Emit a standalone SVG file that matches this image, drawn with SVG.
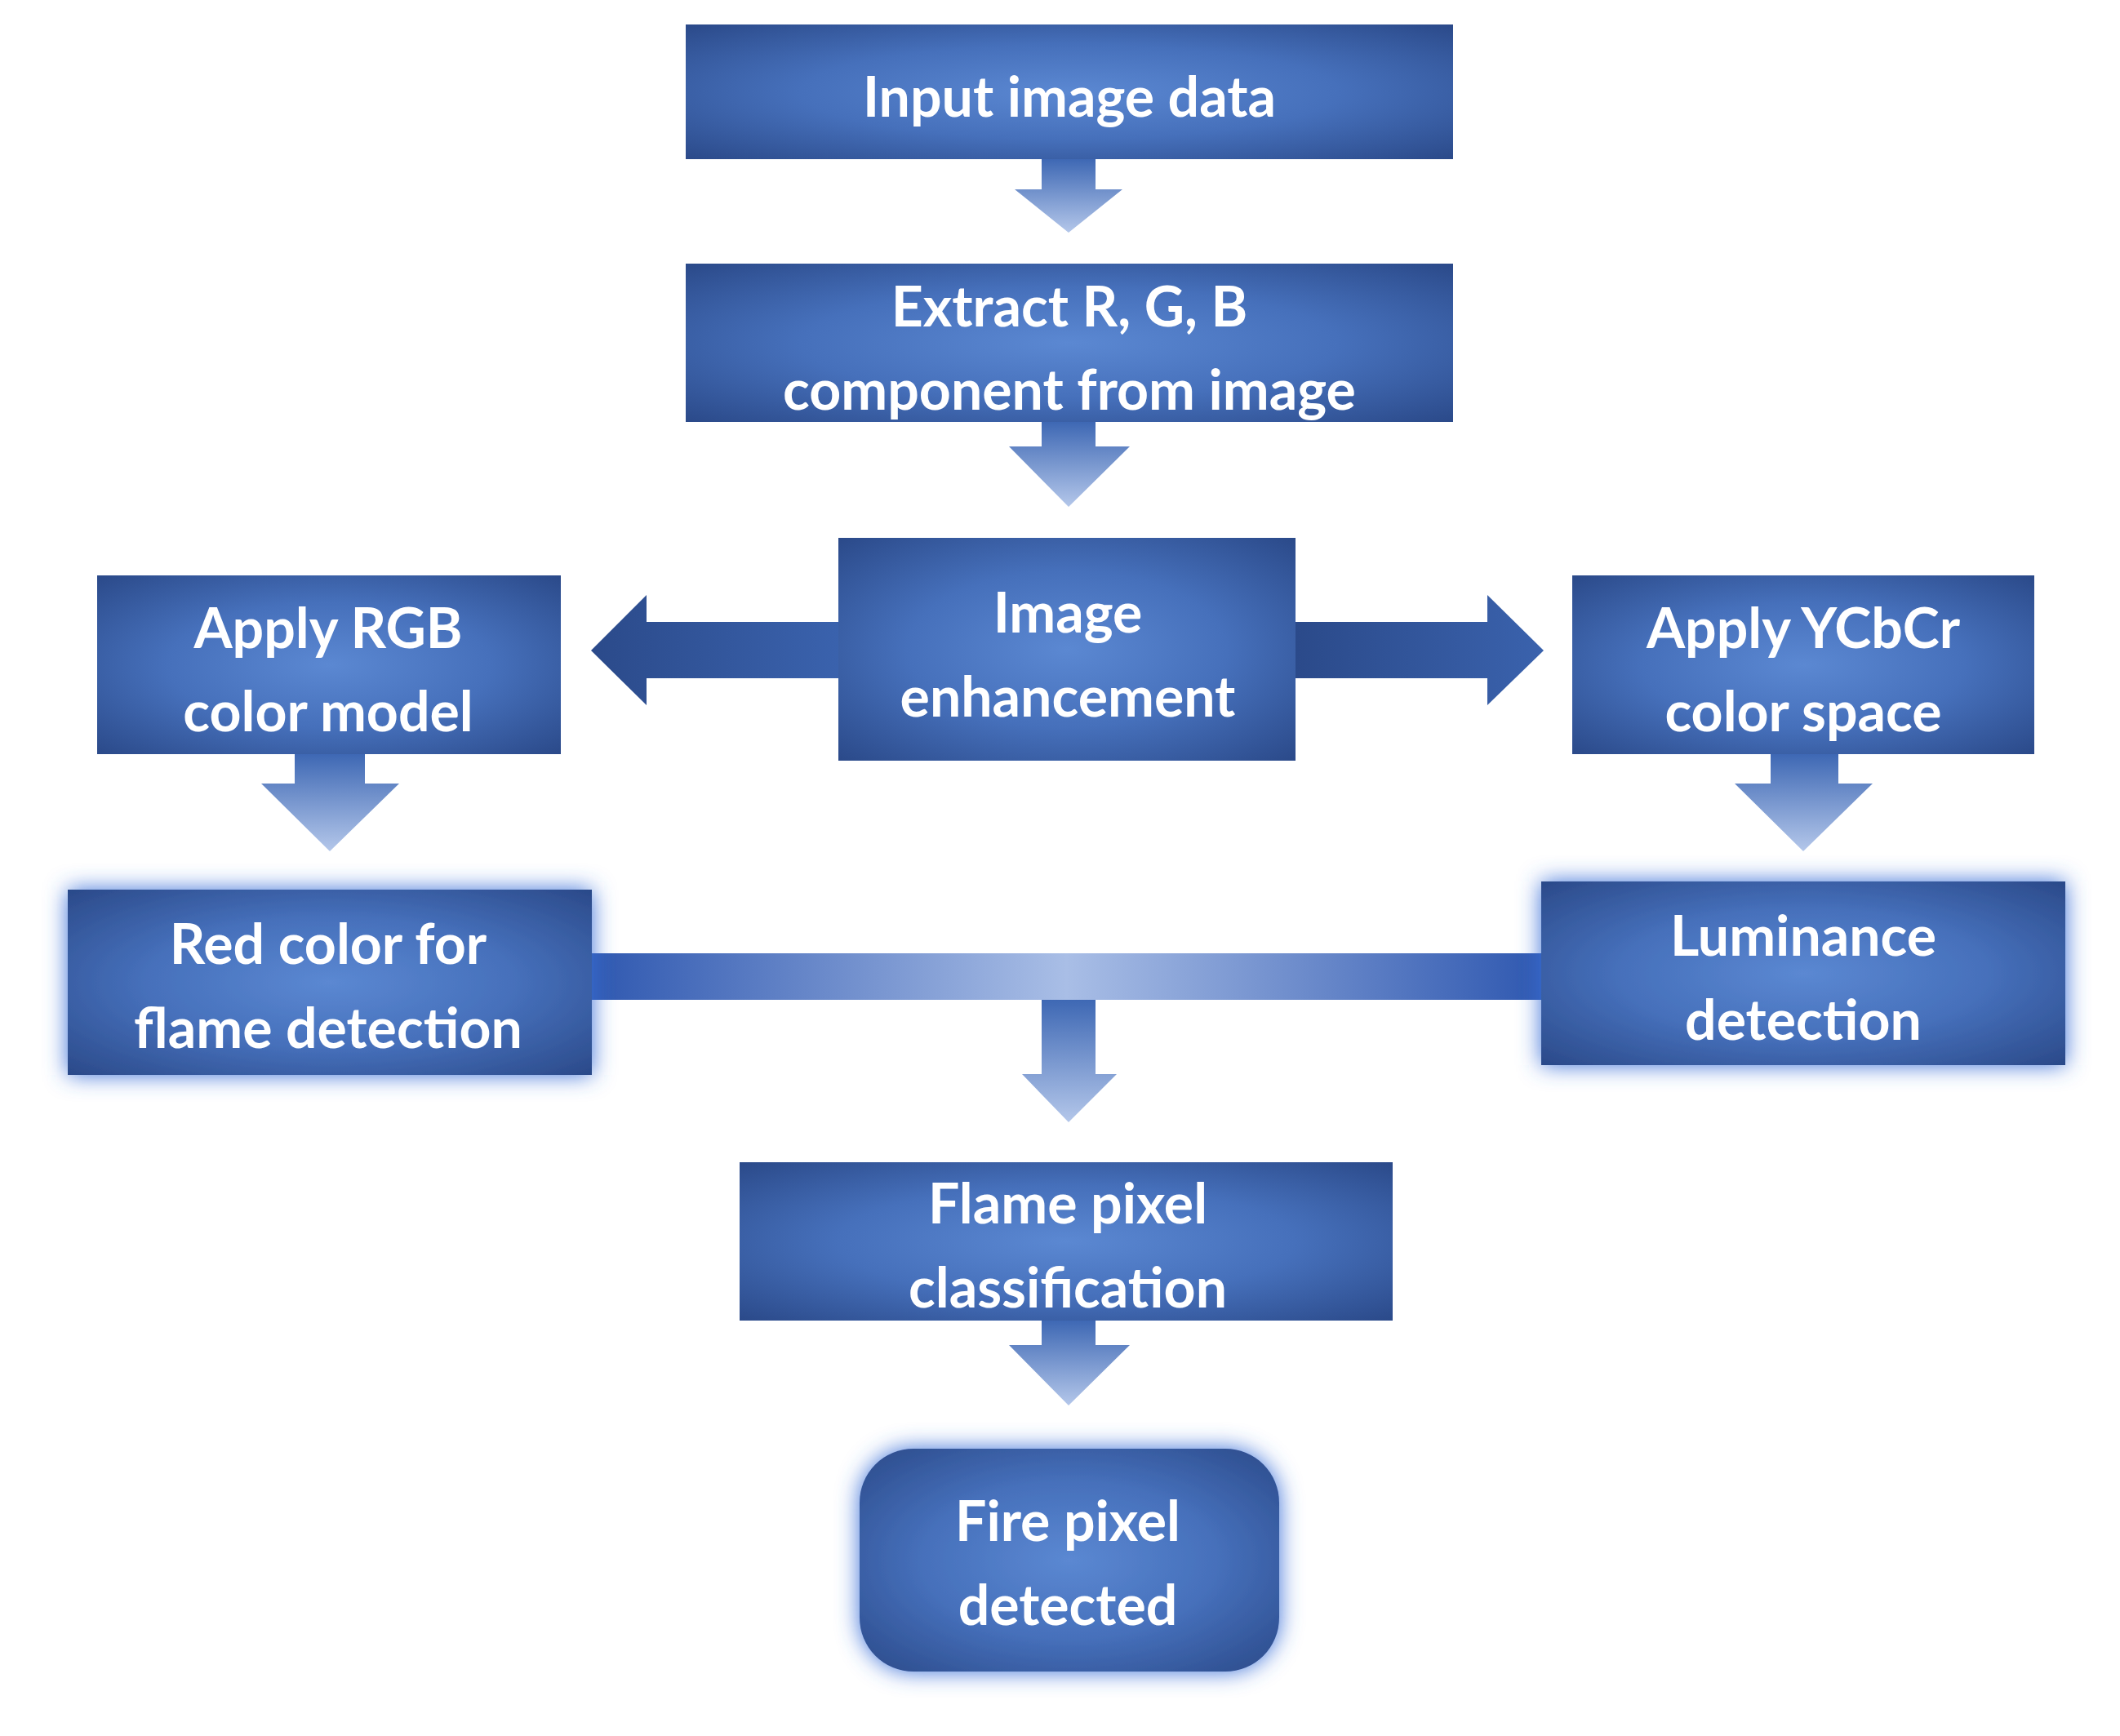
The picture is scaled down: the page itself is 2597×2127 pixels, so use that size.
<svg xmlns="http://www.w3.org/2000/svg" width="2597" height="2127" viewBox="0 0 2597 2127">
<defs>
<radialGradient id="box" cx="0.5" cy="0.5" r="0.7"><stop offset="0" stop-color="#5b88d2"/><stop offset="0.5" stop-color="#4670bb"/><stop offset="1" stop-color="#2b4a8a"/></radialGradient>
<linearGradient id="arr" x1="0" y1="0" x2="0" y2="1"><stop offset="0" stop-color="#3e68b4"/><stop offset="1" stop-color="#b4c7ea"/></linearGradient>
<linearGradient id="side" x1="0" y1="0" x2="1" y2="0"><stop offset="0" stop-color="#2b4a8a"/><stop offset="1" stop-color="#3a62ad"/></linearGradient>
<linearGradient id="bar" x1="0" y1="0" x2="1" y2="0"><stop offset="0" stop-color="#2f58b0"/><stop offset="0.5" stop-color="#a9bee6"/><stop offset="1" stop-color="#2f58b0"/></linearGradient>
<filter id="glow" x="-20%" y="-30%" width="140%" height="160%"><feGaussianBlur in="SourceAlpha" stdDeviation="14"/><feComponentTransfer><feFuncA type="linear" slope="1.4"/></feComponentTransfer><feFlood flood-color="#3b6fd8"/><feComposite operator="in" in2="SourceAlpha"/><feGaussianBlur stdDeviation="14"/><feMerge><feMergeNode/><feMergeNode in="SourceGraphic"/></feMerge></filter>
</defs>
<style>
.b{fill:url(#box)}
.a{fill:url(#arr)}
text{font-family:Lato,"Liberation Sans",sans-serif;font-weight:bold;font-size:68px;fill:#fff;text-anchor:middle;dominant-baseline:central}
</style>
<rect width="2597" height="2127" fill="#fff"/>
<g id="connectors">
<path class="a" d="M1276 195H1342V232H1375L1309 285L1243 232H1276Z"/>
<path class="a" d="M1276 517H1342V547H1384L1309 621L1236 547H1276Z"/>
<path fill="url(#side)" d="M1027 762H792V729L724 797L792 864V831H1027Z"/>
<path fill="url(#side)" d="M1587 762H1822V729L1891 797L1822 864V831H1587Z"/>
<path class="a" d="M361 924H447V960H489L404 1043L320 960H361Z"/>
<path class="a" d="M2169 924H2252V960H2294L2209 1043L2125 960H2169Z"/>
<rect x="725" y="1168" width="1163" height="57" fill="url(#bar)"/>
<path class="a" d="M1276 1225H1342V1316H1368L1309 1375L1252 1316H1276Z"/>
<path class="a" d="M1276 1618H1342V1648H1384L1309 1722L1236 1648H1276Z"/>
</g>
<g id="n1"><rect class="b" x="840" y="30" width="940" height="165"/><text x="1310" y="116">Input image data</text></g>
<g id="n2"><rect class="b" x="840" y="323" width="940" height="194"/><text x="1310" y="373">Extract R, G, B</text><text x="1310" y="475">component from image</text></g>
<g id="n3"><rect class="b" x="1027" y="659" width="560" height="273"/><text x="1308" y="748">Image</text><text x="1308" y="851">enhancement</text></g>
<g id="n4"><rect class="b" x="119" y="705" width="568" height="219"/><text x="402" y="767">Apply RGB</text><text x="402" y="869">color model</text></g>
<g id="n5"><rect class="b" x="1926" y="705" width="566" height="219"/><text x="2209" y="767">Apply YCbCr</text><text x="2209" y="869">color space</text></g>
<g id="n6" filter="url(#glow)"><rect class="b" x="83" y="1090" width="642" height="227"/><text x="402" y="1154">Red color for</text><text x="402" y="1257">flame detection</text></g>
<g id="n7" filter="url(#glow)"><rect class="b" x="1888" y="1080" width="642" height="225"/><text x="2209" y="1144">Luminance</text><text x="2209" y="1247">detection</text></g>
<g id="n8"><rect class="b" x="906" y="1424" width="800" height="194"/><text x="1308" y="1472">Flame pixel</text><text x="1308" y="1575">classification</text></g>
<g id="n9" filter="url(#glow)"><rect class="b" x="1053" y="1775" width="514" height="273" rx="66"/><text x="1308" y="1861">Fire pixel</text><text x="1308" y="1964">detected</text></g>
</svg>
